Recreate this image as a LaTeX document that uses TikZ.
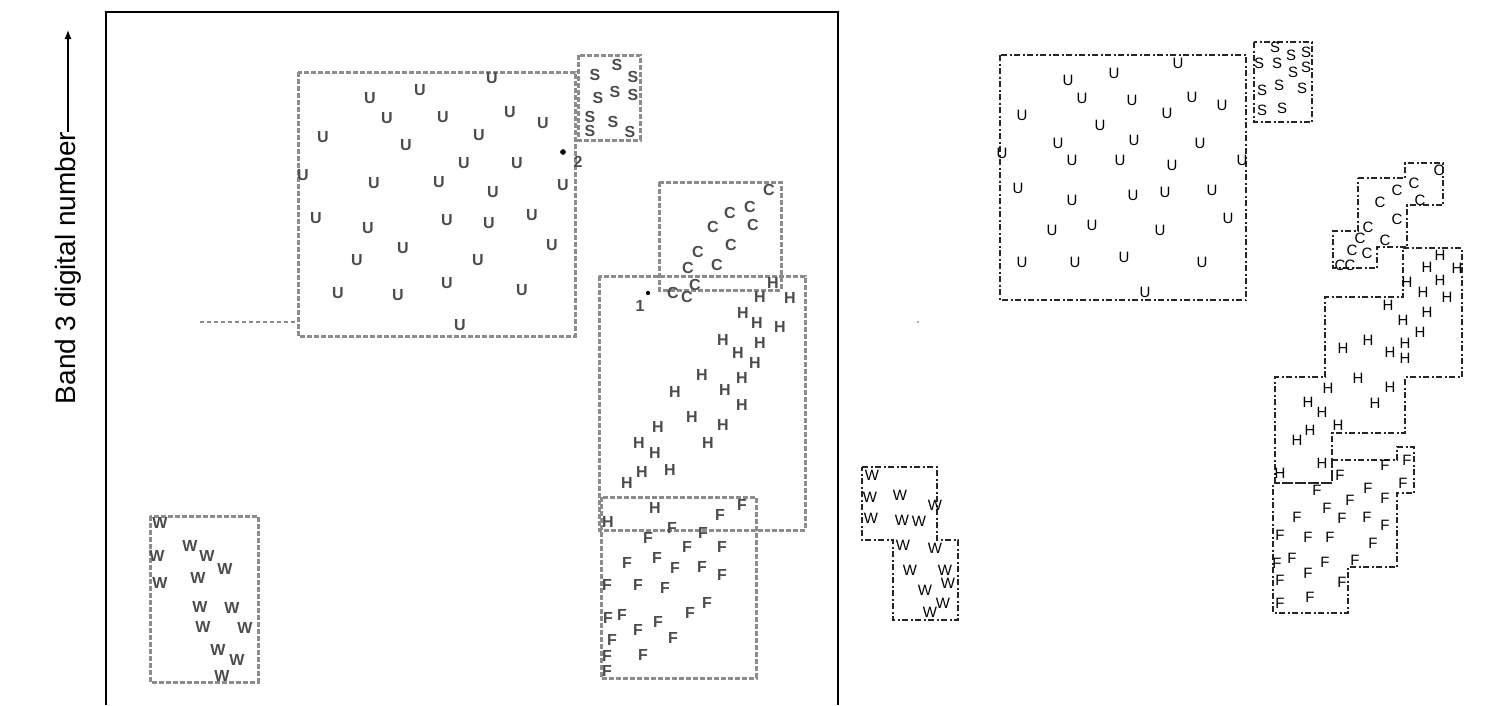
\documentclass[tikz,border=0pt]{standalone}
\usepackage{fontspec}
\setmainfont{Liberation Sans}
\usetikzlibrary{arrows.meta}
\begin{document}
\begin{tikzpicture}[x=1pt,y=-1pt,
  lt/.style={inner sep=0pt,font=\fontsize{16}{16}\selectfont\bfseries,text=black!70},
  rt/.style={inner sep=0pt,font=\fontsize{15}{15}\selectfont},
  gbox/.style={draw=black!45,line width=3pt,dash pattern=on 5pt off 2pt},
  kbox/.style={draw=black!85,line width=1.6pt,dash pattern=on 6pt off 2.5pt on 2pt off 2.5pt}]
\useasboundingbox (0,0) rectangle (1502,705);
% axis
\node[rotate=90,font=\fontsize{28}{28}\selectfont,inner sep=0pt] (ax) at (68,268) {Band 3 digital number};
\coordinate (axtop) at (68,30);
\draw[line width=1.2pt,-{Latex[length=9pt,width=7pt]}] (ax.east) -- (axtop);
% frame
\draw[line width=2.5pt] (106,705) -- (106,12) -- (838,12) -- (838,705);
% left boxes
\draw[gbox] (298,72) rectangle (575,336);
\draw[gbox] (578,55) rectangle (640,140);
\draw[gbox] (659,182) rectangle (781,290);
\draw[gbox] (599,276) rectangle (805,530);
\draw[gbox] (601,497) rectangle (756,678);
\draw[gbox] (150,516) rectangle (258,682);
\draw[draw=black!45,line width=1.5pt,dash pattern=on 4pt off 3pt] (200,322) -- (298,322);
\node[lt] (n2) at (578,162) {2};
\node[fill=black,circle,inner sep=2pt] (d2) at (563,152) {};
\node[lt] (n1) at (640,306) {1};
\node[fill=black,circle,inner sep=1.5pt] (d1) at (648,293) {};
\foreach \x/\y [count=\i] in {492/78,370/98,420/90,387/118,443/117,510/112,543/123,323/137,406/145,479/135,464/163,517/163,303/175,374/183,439/182,493/192,563/185,316/218,368/228,447/220,489/223,532/215,552/245,357/260,403/248,478/260,447/283,338/293,398/295,522/290,460/325}
  \node[lt] (lu\i) at (\x,\y) {U};
\foreach \x/\y [count=\i] in {595/75,617/65,633/77,598/98,615/92,633/95,590/117,613/122,590/131,630/132}
  \node[lt] (ls\i) at (\x,\y) {S};
\foreach \x/\y [count=\i] in {769/190,713/227,730/213,750/207,753/225,731/245,698/252,688/268,717/265,695/285,673/293,687/297}
  \node[lt] (lc\i) at (\x,\y) {C};
\foreach \x/\y [count=\i] in {760/297,790/298,773/283,743/313,757/323,780/327,723/340,760/343,738/353,755/363,702/375,742/378,675/392,725/390,742/405,692/417,658/427,723/425,708/443,639/443,655/453,670/470,642/472,627/483,608/522,655/508}
  \node[lt] (lh\i) at (\x,\y) {H};
\foreach \x/\y [count=\i] in {742/505,720/515,672/528,648/538,703/533,687/547,722/547,627/563,657/558,675/568,702/567,722/575,607/585,638/585,665/588,707/603,690/613,608/618,622/615,658/622,638/630,673/638,612/640,643/655,607/656,607/671}
  \node[lt] (lf\i) at (\x,\y) {F};
\foreach \x/\y [count=\i] in {160/523,157/556,190/546,207/556,225/569,160/583,198/578,200/607,232/608,203/627,245/628,218/650,237/660,222/676}
  \node[lt] (lw\i) at (\x,\y) {W};
% right boxes
\draw[kbox] (1000,55) rectangle (1246,300);
\draw[kbox] (1254,42) rectangle (1312,122);
\draw[kbox] (1358,178) -- (1405,178) -- (1405,163) -- (1443,163) -- (1443,205) -- (1407,205) -- (1407,247) -- (1377,247) -- (1377,268) -- (1333,268) -- (1333,231) -- (1358,231) -- cycle;
\draw[kbox] (1403,248) -- (1462,248) -- (1462,377) -- (1405,377) -- (1405,433) -- (1332,433) -- (1332,483) -- (1275,483) -- (1275,377) -- (1325,377) -- (1325,297) -- (1403,297) -- cycle;
\draw[kbox] (1332,460) -- (1397,460) -- (1397,447) -- (1414,447) -- (1414,493) -- (1397,493) -- (1397,567) -- (1348,567) -- (1348,613) -- (1273,613) -- (1273,483) -- (1332,483) -- cycle;
\draw[kbox] (862,467) -- (937,467) -- (937,540) -- (958,540) -- (958,620) -- (893,620) -- (893,540) -- (862,540) -- cycle;
\node[fill=black!40,circle,inner sep=0.8pt] (rd) at (918,322) {};
\foreach \x/\y [count=\i] in {1178/63,1114/73,1068/80,1082/98,1132/100,1192/97,1222/105,1022/115,1100/125,1167/113,1134/140,1058/143,1200/143,1002/153,1242/160,1072/160,1120/160,1172/165,1018/188,1072/200,1133/195,1165/192,1212/190,1052/230,1092/225,1160/230,1228/218,1022/262,1075/262,1124/257,1202/262,1145/292}
  \node[rt] (ru\i) at (\x,\y) {U};
\foreach \x/\y [count=\i] in {1275/47,1291/55,1306/52,1259/63,1277/63,1293/72,1306/67,1262/90,1279/85,1302/88,1262/110,1282/108}
  \node[rt] (rs\i) at (\x,\y) {S};
\foreach \x/\y [count=\i] in {1439/170,1414/183,1397/190,1380/202,1420/200,1397/219,1368/227,1360/238,1385/240,1352/250,1367/253,1340/265,1350/265}
  \node[rt] (rc\i) at (\x,\y) {C};
\foreach \x/\y [count=\i] in {1440/255,1427/267,1457/268,1440/280,1407/282,1423/292,1447/297,1388/305,1403/320,1427/312,1420/332,1405/343,1368/340,1390/352,1343/348,1405/358,1358/378,1390/387,1328/388,1375/403,1308/402,1322/412,1338/425,1310/430,1297/440,1322/463,1280/473}
  \node[rt] (rh\i) at (\x,\y) {H};
\foreach \x/\y [count=\i] in {1407/460,1385/465,1403/483,1368/488,1317/490,1340/475,1350/500,1385/498,1327/508,1297/517,1342/518,1367/517,1385/525,1280/535,1308/537,1330/537,1373/543,1277/563,1292/558,1325/562,1355/560,1308/573,1342/582,1280/580,1310/597,1280/603}
  \node[rt] (rf\i) at (\x,\y) {F};
\foreach \x/\y [count=\i] in {872/475,870/497,900/495,871/518,902/520,919/521,935/505,903/545,935/548,910/570,945/570,948/583,925/590,943/603,930/612}
  \node[rt] (rw\i) at (\x,\y) {W};
\end{tikzpicture}
\end{document}
